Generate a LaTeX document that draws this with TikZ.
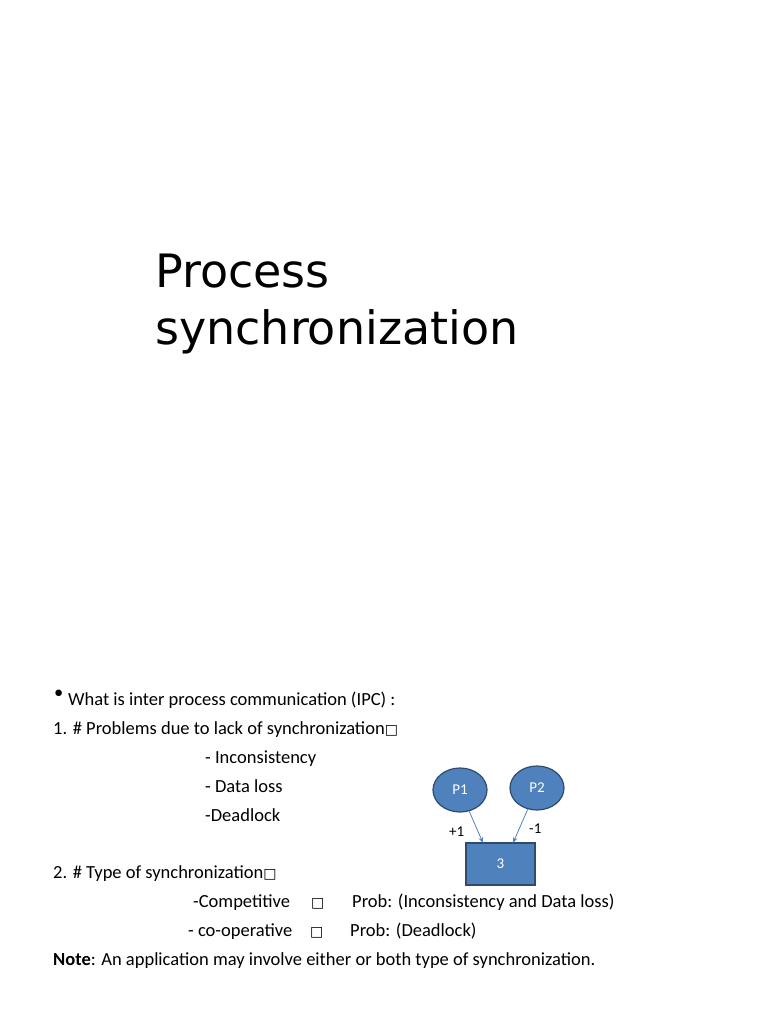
\documentclass[tikz,border=0pt]{standalone}
\usepackage{fontspec}
\setmainfont{Carlito}
\newfontfamily\titlefont{DejaVu Sans}
\newcommand{\boxglyph}{{\titlefont\fontsize{14}{14}\selectfont □}}
\usetikzlibrary{arrows.meta,shapes.geometric}
\definecolor{procblue}{HTML}{4F81BD}
\definecolor{procedge}{HTML}{2F4B6E}
\tikzset{
  txt/.style={anchor=base west,inner sep=0pt,font=\fontsize{18.5}{20}\selectfont},
  proc/.style={ellipse,draw=procedge,fill=procblue,line width=1.2pt,minimum width=54pt,minimum height=44pt,text=white,font=\fontsize{15}{16}\selectfont},
  buf/.style={rectangle,draw=procedge,fill=procblue,line width=1.2pt,minimum width=69pt,minimum height=42pt,text=white,font=\fontsize{15}{16}\selectfont},
  conn/.style={-{Stealth[length=6pt]},procblue,line width=0.8pt}
}
\begin{document}
\begin{tikzpicture}[x=1pt,y=-1pt]
\useasboundingbox (0,0) rectangle (768,1024);
% title
\node[anchor=base west,inner sep=0pt,font=\titlefont\fontsize{46}{50}\selectfont] (title1) at (155,287) {Process};
\node[anchor=base west,inner sep=0pt,font=\titlefont\fontsize{46}{50}\selectfont] (title2) at (155,344) {synchronization};
% body text
\node[txt] (bul) at (54,698) {•};
\node[txt] (l0) at (68,705) {What is inter process communication (IPC) :};
\node[txt] (l1) at (53,734) {1. \# Problems due to lack of synchronization\boxglyph};
\node[txt] (l2) at (205,763) {- Inconsistency};
\node[txt] (l3) at (205,792) {- Data loss};
\node[txt] (l4) at (205,821) {-Deadlock};
\node[txt] (l5) at (53,878) {2. \# Type of synchronization\boxglyph};
\node[txt] (l6) at (193,907) {-Competitive};
\node[txt] (b6) at (311,907) {\boxglyph};
\node[txt] (p6) at (352,907) {Prob: (Inconsistency and Data loss)};
\node[txt] (l7) at (188,936) {- co-operative};
\node[txt] (b7) at (310,936) {\boxglyph};
\node[txt] (p7) at (350,936) {Prob: (Deadlock)};
\node[txt] (l8) at (53,965) {\textbf{Note}: An application may involve either or both type of synchronization.};
% diagram
\node[proc] (p1) at (460,790) {P1};
\node[proc] (p2) at (537,788) {P2};
\node[buf] (res) at (500.5,864) {3};
\coordinate (in1) at (483,843);
\coordinate (in2) at (513,843);
\draw[conn] (p1) -- (in1);
\draw[conn] (p2) -- (in2);
\node[txt,font=\fontsize{15}{16}\selectfont] (inc) at (449,836) {+1};
\node[txt,font=\fontsize{15}{16}\selectfont] (dec) at (529,833) {-1};
\end{tikzpicture}
\end{document}
